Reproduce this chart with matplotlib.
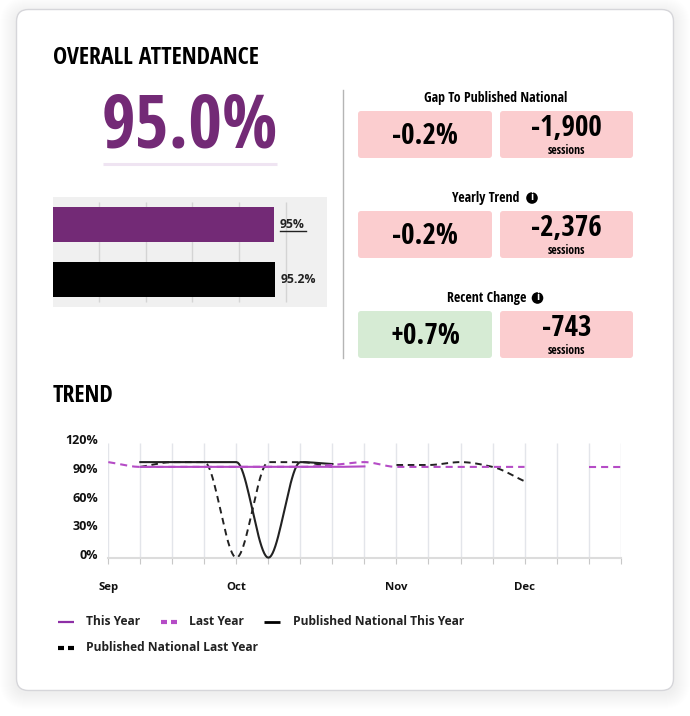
import numpy as np
import matplotlib
matplotlib.use('Agg')
import matplotlib.pyplot as plt
from matplotlib.patches import FancyBboxPatch, Circle
from matplotlib.transforms import ScaledTranslation

W, H = 690, 716
NARROW = ['Open Sans Condensed', 'Open Sans', 'DejaVu Sans']
OPEN = ['Open Sans', 'DejaVu Sans']
PURPLE = '#732a76'
ORCHID = '#b54cc6'

# attendance bars
bar_names = ['This Year', 'National']
bar_values = [95, 95.2]
bar_labels = ['95%', '95.2%']
bar_colors = [PURPLE, '#000000']

# stat tiles
stat_heads = ['Gap To Published National', 'Yearly Trend', 'Recent Change']
stat_pct = ['-0.2%', '-0.2%', '+0.7%']
stat_sessions = ['-1,900', '-2,376', '-743']
stat_pct_good = [False, False, True]

# weekly trend, nan = no data that week
n = np.nan
this_year = [n, 95, 95, 95, 95, 95, 95, 95, 95.5, n, n, n, n, n, n, n, n]
last_year = [100, 95, 95, 95, 95, 95, 95, 97, 100, 95, 95, 95, 95, 95, n, 95, 95]
nat_this_year = [n, 100, 100, 100, 100, 0, 100, 98, n, n, n, n, n, n, n, n, n]
nat_last_year = [n, 95, 100, 100, 0, 100, 100, 95, n, 97, 97, 100, 95, 80, n, n, n]
month_ticks = [0, 4, 9, 13]
month_names = ['Sep', 'Oct', 'Nov', 'Dec']
y_ticks = [0, 30, 60, 90, 120]


def px_axes(fig, left, top, right, bottom, **kw):
    return fig.add_axes([left / W, 1 - bottom / H, (right - left) / W, (bottom - top) / H], **kw)


def smooth(xs, ys, steps=24):
    # monotone cubic through the weekly values, one run per unbroken stretch
    xs, ys = np.asarray(xs, float), np.asarray(ys, float)
    d = np.diff(ys) / np.diff(xs)
    m = np.zeros(len(ys))
    for i in range(1, len(ys) - 1):
        if d[i - 1] * d[i] > 0:
            m[i] = 2 * d[i - 1] * d[i] / (d[i - 1] + d[i])
    m[0], m[-1] = d[0], d[-1]
    out_x, out_y = [], []
    for i in range(len(xs) - 1):
        t = np.linspace(0, 1, steps)
        h = xs[i + 1] - xs[i]
        out_x.extend(xs[i] + t * h)
        out_y.extend((2*t**3 - 3*t**2 + 1) * ys[i] + (t**3 - 2*t**2 + t) * h * m[i]
                     + (-2*t**3 + 3*t**2) * ys[i + 1] + (t**3 - t**2) * h * m[i + 1])
    return out_x, out_y


def draw_series(ax, values, **kw):
    values = np.array(values, float)
    idx = np.arange(len(values))
    ok = ~np.isnan(values)
    # split on gaps
    for run in np.split(idx[ok], np.where(np.diff(idx[ok]) > 1)[0] + 1):
        if len(run) > 1:
            ax.plot(*smooth(run, values[run]), **kw)


fig = plt.figure(figsize=(W / 100, H / 100), dpi=100, facecolor='#ffffff')
bg = fig.add_axes([0, 0, 1, 1])
bg.set_xlim(0, W); bg.set_ylim(H, 0); bg.axis('off')

# card with a soft shadow, pushed down a little
for grow in range(16, 0, -1):
    bg.add_patch(FancyBboxPatch((16 - grow, 13 - grow), 658 + 2 * grow, 680 + 2 * grow,
                                boxstyle='round,pad=0,rounding_size=%d' % (12 + grow),
                                fc='#000000', ec='none', alpha=0.0035))
bg.add_patch(FancyBboxPatch((16.5, 9.5), 657, 681, boxstyle='round,pad=0,rounding_size=12',
                            fc='white', ec='#d6d6da', lw=1))

bg.text(53, 57.5, 'OVERALL ATTENDANCE', family=NARROW, weight='bold', fontsize=17.2, va='center', color='black')
bg.text(53, 395.5, 'TREND', family=NARROW, weight='bold', fontsize=17.2, va='center', color='black')

bg.text(190, 128.5, '95.0%', family=NARROW, weight='bold', fontsize=52.5, ha='center', va='center', color=PURPLE)
bg.plot([103, 277], [163.5, 163.5], color='#efe4f2', lw=2.2, solid_capstyle='butt')

# divider
bg.plot([342.5, 342.5], [90, 358], color='#b5b5b5', lw=1)

# stat tiles, the heading and its info badge are centred together
head_x = [495.5, 486, 486.5]
icon_x = [None, 532, 537.5]
for i, head in enumerate(stat_heads):
    top = 111 + 100 * i
    bg.text(head_x[i], top - 13, head, family=NARROW, weight='bold', fontsize=10, ha='center', va='center')
    if icon_x[i]:
        bg.add_patch(Circle((icon_x[i], top - 13), 5.8, fc='black', ec='none'))
        bg.text(icon_x[i], top - 13, 'i', color='white', family=OPEN, weight='bold', fontsize=7.5, ha='center', va='center')
    pct_col = '#d6ebd4' if stat_pct_good[i] else '#fbcdcf'
    bg.add_patch(FancyBboxPatch((358, top), 134, 47, boxstyle='round,pad=0,rounding_size=3', fc=pct_col, ec='none'))
    bg.add_patch(FancyBboxPatch((500, top), 133, 47, boxstyle='round,pad=0,rounding_size=3', fc='#fbcdcf', ec='none'))
    bg.text(425, top + 26, stat_pct[i], family=NARROW, weight='bold', fontsize=21, ha='center', va='center')
    bg.text(566.5, top + 18, stat_sessions[i], family=NARROW, weight='bold', fontsize=21, ha='center', va='center')
    bg.text(566.5, top + 39, 'sessions', family=NARROW, weight='bold', fontsize=8.5, ha='center', va='center')

# bar chart
bar_ax = px_axes(fig, 52.7, 196.7, 326.7, 306.7, facecolor='#f0f0f0')
bar_ax.set_xlim(0, 117.6)
bar_ax.set_ylim(1.494, -0.503)
bar_ax.vlines([20, 40, 60, 80, 100], -0.404, 1.405, color='#d4d4d4', lw=1, zorder=1)
bar_ax.barh(range(len(bar_values)), bar_values, height=0.643, color=bar_colors, zorder=2)
for s in bar_ax.spines.values():
    s.set_visible(False)
bar_ax.set_xticks([]); bar_ax.set_yticks([])
for i, v in enumerate(bar_values):
    bar_ax.text(v + 2.5, i, bar_labels[i], family=OPEN, weight='bold', fontsize=8.8, va='center', color='#222222', zorder=3)
# only the first label is underlined
bar_ax.plot([97.6, 108.8], [0.115, 0.115], color='#222222', lw=1, zorder=3)

# trend chart
ax = px_axes(fig, 108.3, 443, 620.6, 557.7)
ax.patch.set_alpha(0)
ax.set_xlim(0, 16)
ax.set_ylim(0, 120)
for s in ax.spines.values():
    s.set_visible(False)
ax.spines['bottom'].set_visible(True)
ax.spines['bottom'].set_color('#dcdcdc')
ax.spines['bottom'].set_linewidth(1.5)
ax.vlines(range(17), 0, 120, color='#e3e5ea', lw=1, zorder=1)
ax.set_xticks(range(17))
ax.set_xticklabels([month_names[month_ticks.index(k)] if k in month_ticks else '' for k in range(17)],
                   family=OPEN, weight='bold', fontsize=8.2, color='#111111')
ax.tick_params(axis='x', length=4.3, width=0.8, color='#c8c8c8', pad=13)
ax.set_yticks(y_ticks)
ax.set_yticklabels(['%d%%' % v for v in y_ticks], family=OPEN, weight='bold', fontsize=9, color='#111111')
ax.tick_params(axis='y', length=0, pad=7.5)
shift = ScaledTranslation(0, 3.7 / 100, fig.dpi_scale_trans)
for lab in ax.get_yticklabels():
    lab.set_transform(lab.get_transform() + shift)

dash = (0, (3.4, 2.4))
draw_series(ax, nat_last_year, color='#222222', lw=1.4, ls=dash, zorder=2, clip_on=False)
draw_series(ax, nat_this_year, color='#222222', lw=1.5, zorder=3, clip_on=False)
draw_series(ax, last_year, color=ORCHID, lw=1.5, ls=dash, zorder=4, clip_on=False)
draw_series(ax, this_year, color=ORCHID, lw=1.5, zorder=5, clip_on=False)

# legend
def legend_item(x, y, text, text_x, color, dashed=False, edge=None):
    if dashed:
        bg.plot([x, x + 6], [y, y], color=color, lw=3, solid_capstyle='butt')
        bg.plot([x + 10, x + 16], [y, y], color=color, lw=3, solid_capstyle='butt')
    else:
        bg.plot([x, x + 16], [y, y], color=color, lw=1.6 if edge else 2, solid_capstyle='butt')
    bg.text(text_x, y, text, family=OPEN, weight='bold', fontsize=8.65, va='center', color='#222222')

legend_item(58, 621.5, 'This Year', 86, '#8e2fa6', edge=True)
legend_item(161, 621.5, 'Last Year', 189, ORCHID, dashed=True)
legend_item(264, 621.5, 'Published National This Year', 293, '#000000')
legend_item(58, 647.5, 'Published National Last Year', 86, '#000000', dashed=True)

fig.savefig('out.png', dpi=100, facecolor=fig.get_facecolor())
